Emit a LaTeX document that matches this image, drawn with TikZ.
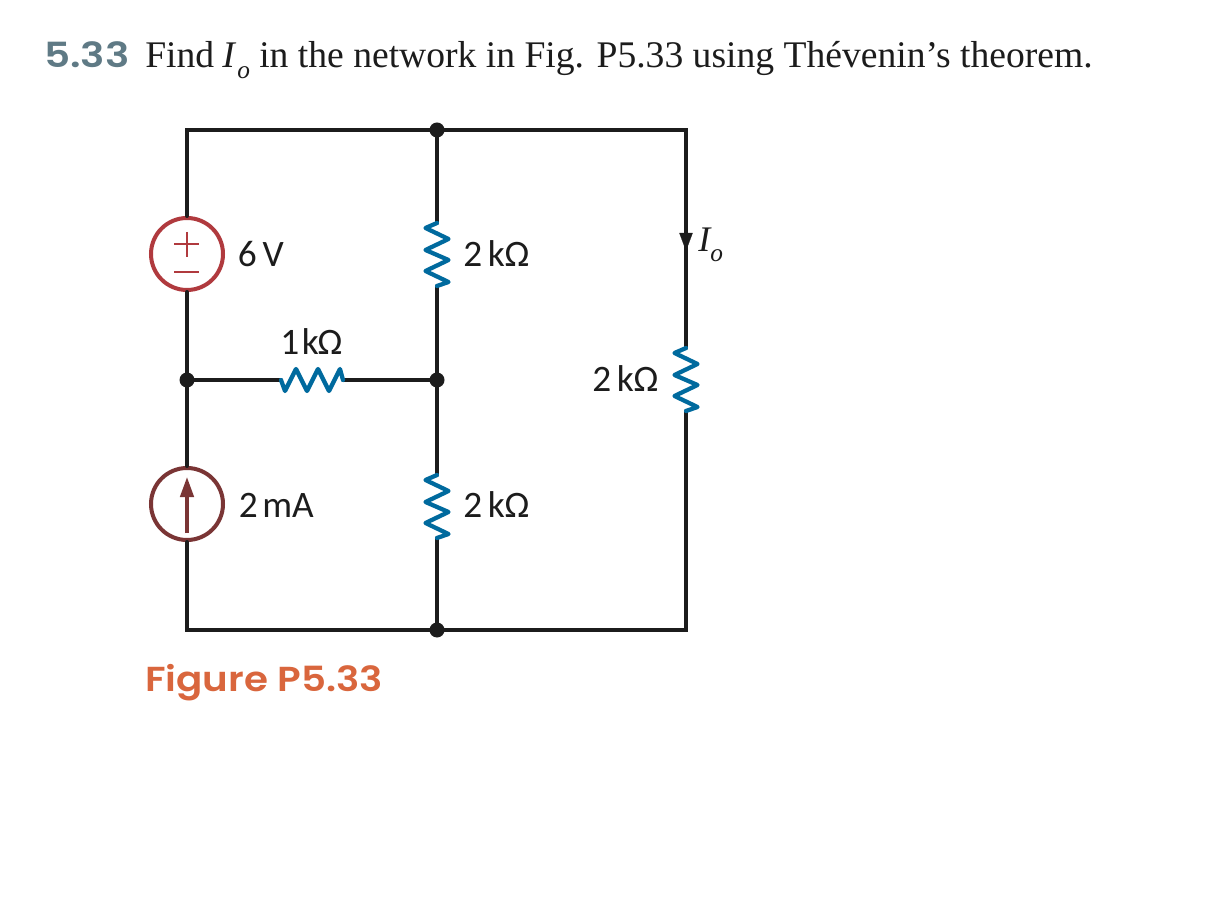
\documentclass[tikz,border=0pt]{standalone}
\usepackage{fontspec}
\setmainfont{Liberation Serif}
\newfontfamily\lblfont{Carlito}
\newfontfamily\headfont[FakeStretch=1.17]{Poppins}[UprightFont=* SemiBold]
\newfontfamily\figfont[FakeStretch=1.12]{Poppins}[UprightFont=* SemiBold]
\usetikzlibrary{arrows.meta}
\definecolor{wirec}{HTML}{1C1C1C}
\definecolor{resc}{HTML}{006A9E}
\definecolor{vsrc}{HTML}{B03A3E}
\definecolor{isrc}{HTML}{7A3535}
\definecolor{numc}{HTML}{5F7A85}
\definecolor{figc}{HTML}{D9663D}
\newcommand{\kohm}[1]{#1\kern4.2pt k\kern-0.2ptΩ}
\tikzset{
  wire/.style={draw=wirec,line width=3pt,line cap=round},
  res/.style={draw=resc,line width=3.2pt,line join=round,line cap=round},
  junction/.style={circle,fill=wirec,inner sep=0pt,minimum size=11.25pt},
  srcv/.style={circle,draw=vsrc,line width=3pt,fill=white,inner sep=0pt,minimum size=54pt},
  srci/.style={circle,draw=isrc,line width=3pt,fill=white,inner sep=0pt,minimum size=54pt},
  lbl/.style={anchor=base west,inner sep=0pt,font=\lblfont\fontsize{28}{28}\selectfont,text=wirec},
  ttl/.style={anchor=base west,inner sep=0pt,font=\fontsize{28.2}{30}\selectfont,text=wirec},
  hd/.style={anchor=base west,inner sep=0pt,font=\headfont\fontsize{26}{28}\selectfont},
  figlbl/.style={anchor=base west,inner sep=0pt,font=\figfont\fontsize{26}{28}\selectfont},
}
\begin{document}
\begin{tikzpicture}[x=0.75pt,y=-0.75pt]
\useasboundingbox (0,0) rectangle (1210,898);
\fill[white] (0,0) rectangle (1210,898);
% title
\node[hd,text=numc] (num) at (44,68) {5.33};
\node[ttl] (find) at (145,68) {Find};
\node[ttl] (iot) at (222,68) {\itshape I};
\node[ttl,font=\itshape\fontsize{19}{20}\selectfont] (iots) at (237,79) {o};
\node[ttl] (rest) at (259,68) {in the network in Fig. P5.33 using Thévenin’s theorem.};
% junctions and corners
\coordinate (tl) at (187,130);
\coordinate (tr) at (686,130);
\coordinate (bl) at (187,630);
\coordinate (br) at (686,630);
\node[junction] (jt) at (437,130) {};
\node[junction] (jl) at (187,380) {};
\node[junction] (jm) at (437,380) {};
\node[junction] (jb) at (437,630) {};
% resistor terminals
\coordinate (r1a) at (437,223); \coordinate (r1b) at (437,286);
\coordinate (r2a) at (437,475); \coordinate (r2b) at (437,538);
\coordinate (r3a) at (686,348); \coordinate (r3b) at (686,411);
\coordinate (r4a) at (281,380); \coordinate (r4b) at (343,380);
% Io arrow ends
\coordinate (ia) at (686,233); \coordinate (ib) at (686,251);
% sources
\node[srcv] (vs) at (187,254) {};
\node[srci] (is) at (187,504) {};
% wires
\draw[wire,line join=miter] (vs.north) -- (tl) -- (jt.center) -- (tr) -- (r3a);
\draw[wire] (vs.south) -- (jl.center) -- (is.north);
\draw[wire,line join=miter] (is.south) -- (bl) -- (jb.center) -- (br) -- (r3b);
\draw[wire] (jl.center) -- (r4a);
\draw[wire] (r4b) -- (jm.center);
\draw[wire] (jt.center) -- (r1a);
\draw[wire] (r1b) -- (jm.center) -- (r2a);
\draw[wire] (r2b) -- (jb.center);
\draw[wirec,line width=0.1pt,-{Triangle[length=13.5pt,width=10pt,fill=wirec]}] (ia) -- (ib);
% resistors
\foreach \a/\b in {r1a/r1b,r2a/r2b,r3a/r3b}{
  \draw[res] (\a) -- ++(-11.5,5) -- ++(23,11) -- ++(-23,11) -- ++(23,10) -- ++(-23,11) -- ++(23,11) -- (\b);
}
\draw[res] (r4a) -- ++(4,11) -- ++(11,-22) -- ++(11,22) -- ++(11,-22) -- ++(11,22) -- ++(11,-22) -- (r4b);
% source symbols
\draw[vsrc,line width=1.6pt] (174,244) -- (199,244);
\draw[vsrc,line width=1.6pt] (187,232) -- (187,257);
\draw[vsrc,line width=1.6pt] (174,272) -- (199,272);
\coordinate (aa) at (187,533); \coordinate (ab) at (187,477);
\draw[isrc,line width=2.6pt,-{Triangle[length=15pt,width=10pt,fill=isrc]}] (aa) -- (ab);
% labels
\node[lbl] (l6v) at (237.5,267) {6\kern4.5pt V};
\node[lbl] (l1k) at (280,355) {1\kern2pt k\kern-0.9ptΩ};
\node[lbl] (lr1) at (463,267) {\kohm{2}};
\node[lbl] (lr2) at (463,517) {\kohm{2}};
\node[lbl] (lr3) at (592,392) {\kohm{2}};
\node[lbl] (l2ma) at (238.5,517) {2\kern3.5pt mA};
\node[ttl,font=\itshape\fontsize{27}{28}\selectfont] (li) at (698,252) {I};
\node[ttl,font=\itshape\fontsize{19}{20}\selectfont] (lo) at (710,262) {o};
\node[figlbl,text=figc] (fig) at (145,691) {Figure P5.33};
\end{tikzpicture}
\end{document}
